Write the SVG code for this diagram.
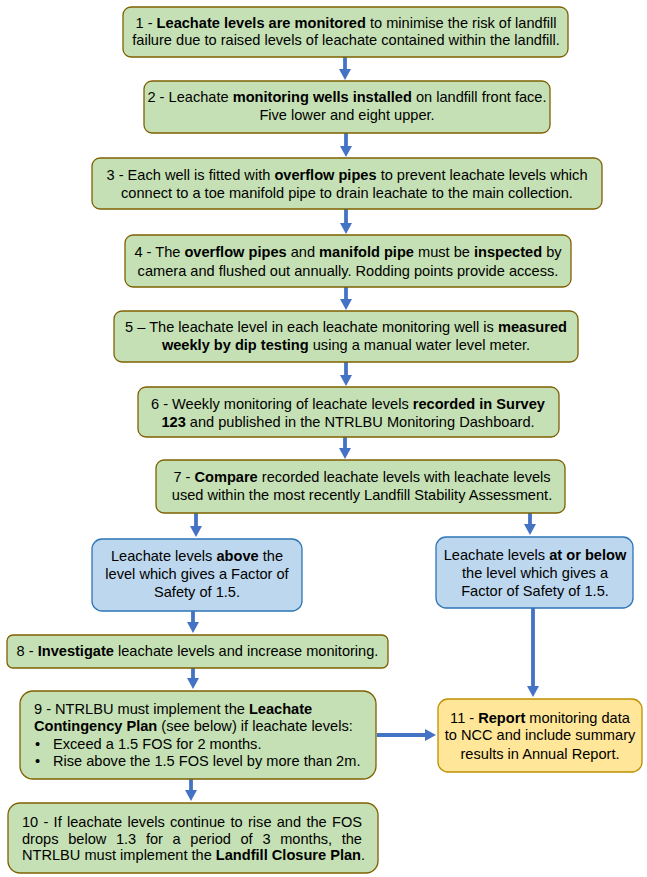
<svg xmlns="http://www.w3.org/2000/svg" width="647" height="877" viewBox="0 0 647 877">
<style>
text{font-family:"Liberation Sans",Arial,sans-serif;font-size:14.6px;fill:#000}
.c{text-anchor:middle}
.b{font-weight:bold}
.g{fill:#C5E0B4;stroke:#7F6000;stroke-width:1.3}
.bl{fill:#BDD7EE;stroke:#2E75B6;stroke-width:1.3}
.y{fill:#FFE699;stroke:#BF9000;stroke-width:1.3}
.a{stroke:#4472C4;stroke-width:3.8;fill:none;marker-end:url(#ah)}
</style>
<defs>
<marker id="ah" markerUnits="userSpaceOnUse" viewBox="0 0 11 12" refX="1" refY="6" markerWidth="11" markerHeight="12" orient="auto">
<path d="M0,0 L11,6 L0,12 z" fill="#4472C4"/>
</marker>
</defs>
<g id="connectors">
<line class="a" x1="345" y1="57" x2="345" y2="70"/>
<line class="a" x1="346" y1="133" x2="346" y2="147"/>
<line class="a" x1="346" y1="209" x2="346" y2="224"/>
<line class="a" x1="346" y1="287" x2="346" y2="300"/>
<line class="a" x1="346" y1="362" x2="346" y2="376"/>
<line class="a" x1="345" y1="437" x2="345" y2="449"/>
<line class="a" x1="196" y1="513" x2="196" y2="527"/>
<line class="a" x1="530" y1="513" x2="530" y2="525"/>
<line class="a" x1="193" y1="611" x2="193" y2="623"/>
<line class="a" x1="193" y1="668" x2="193" y2="679"/>
<line class="a" x1="191" y1="779" x2="191" y2="791"/>
<line class="a" x1="533" y1="608" x2="533" y2="687"/>
<line class="a" x1="377" y1="735" x2="426" y2="735"/>
</g>
<g id="n1">
<rect class="g" x="123" y="7" width="445" height="50" rx="8"/>
<text class="c" x="346" y="27.5">1 - <tspan class="b">Leachate levels are monitored</tspan> to minimise the risk of landfill</text>
<text class="c" x="346" y="45">failure due to raised levels of leachate contained within the landfill.</text>
</g>
<g id="n2">
<rect class="g" x="144" y="81" width="406" height="52" rx="8"/>
<text class="c" x="347" y="102">2 - Leachate <tspan class="b">monitoring wells installed</tspan> on landfill front face.</text>
<text class="c" x="347" y="120">Five lower and eight upper.</text>
</g>
<g id="n3">
<rect class="g" x="92" y="158" width="510" height="51" rx="8"/>
<text class="c" x="347" y="179.5">3 - Each well is fitted with <tspan class="b">overflow pipes</tspan> to prevent leachate levels which</text>
<text class="c" x="347" y="198">connect to a toe manifold pipe to drain leachate to the main collection.</text>
</g>
<g id="n4">
<rect class="g" x="125" y="235" width="446" height="52" rx="8"/>
<text class="c" x="348" y="257">4 - The <tspan class="b">overflow pipes</tspan> and <tspan class="b">manifold pipe</tspan> must be <tspan class="b">inspected</tspan> by</text>
<text class="c" x="348" y="275.5">camera and flushed out annually. Rodding points provide access.</text>
</g>
<g id="n5">
<rect class="g" x="114" y="311" width="464" height="51" rx="8"/>
<text class="c" x="346" y="332">5 – The leachate level in each leachate monitoring well is <tspan class="b">measured</tspan></text>
<text class="c" x="346" y="350"><tspan class="b">weekly by dip testing</tspan> using a manual water level meter.</text>
</g>
<g id="n6">
<rect class="g" x="138" y="387" width="421" height="50" rx="8"/>
<text class="c" x="348" y="408.5">6 - Weekly monitoring of leachate levels <tspan class="b">recorded in Survey</tspan></text>
<text class="c" x="348" y="427"><tspan class="b">123</tspan> and published in the NTRLBU Monitoring Dashboard.</text>
</g>
<g id="n7">
<rect class="g" x="156" y="460" width="409" height="53" rx="8"/>
<text class="c" x="362" y="482">7 - <tspan class="b">Compare</tspan> recorded leachate levels with leachate levels</text>
<text class="c" x="362" y="499.5">used within the most recently Landfill Stability Assessment.</text>
</g>
<g id="above">
<rect class="bl" x="92" y="539" width="210" height="72" rx="10"/>
<text class="c" x="197" y="561">Leachate levels <tspan class="b">above</tspan> the</text>
<text class="c" x="197" y="579">level which gives a Factor of</text>
<text class="c" x="197" y="597">Safety of 1.5.</text>
</g>
<g id="below">
<rect class="bl" x="436" y="537" width="197" height="71" rx="10"/>
<text class="c" x="535" y="560">Leachate levels <tspan class="b">at or below</tspan></text>
<text class="c" x="535" y="578">the level which gives a</text>
<text class="c" x="535" y="596">Factor of Safety of 1.5.</text>
</g>
<g id="n8">
<rect class="g" x="7" y="635" width="381" height="33" rx="6"/>
<text class="c" x="197.5" y="656">8 - <tspan class="b">Investigate</tspan> leachate levels and increase monitoring.</text>
</g>
<g id="n9">
<rect class="g" x="20" y="691" width="356" height="88" rx="13"/>
<text x="34" y="713.5">9 - NTRLBU must implement the <tspan class="b">Leachate</tspan></text>
<text x="34" y="730.5"><tspan class="b">Contingency Plan</tspan> (see below) if leachate levels:</text>
<text x="35" y="748.5">•</text>
<text x="53" y="748.5">Exceed a 1.5 FOS for 2 months.</text>
<text x="35" y="765.5">•</text>
<text x="53" y="765.5">Rise above the 1.5 FOS level by more than 2m.</text>
</g>
<g id="n11">
<rect class="y" x="438" y="699" width="204" height="73" rx="10"/>
<text class="c" x="540" y="722.5">11 - <tspan class="b">Report</tspan> monitoring data</text>
<text class="c" x="540" y="740">to NCC and include summary</text>
<text class="c" x="540" y="758.5">results in Annual Report.</text>
</g>
<g id="n10">
<rect class="g" x="8" y="803" width="370" height="70" rx="12"/>
<text y="827"><tspan x="22">10</tspan><tspan x="43.5">-</tspan><tspan x="53.6">If</tspan><tspan x="67">leachate</tspan><tspan x="127.5">levels</tspan><tspan x="170">continue</tspan><tspan x="230.5">to</tspan><tspan x="248">rise</tspan><tspan x="276.7">and</tspan><tspan x="306.4">the</tspan><tspan x="332">FOS</tspan></text>
<text y="843.5"><tspan x="22">drops</tspan><tspan x="68.2">below</tspan><tspan x="115.9">1.3</tspan><tspan x="145.9">for</tspan><tspan x="172.5">a</tspan><tspan x="190.3">period</tspan><tspan x="240.5">of</tspan><tspan x="262.4">3</tspan><tspan x="280.2">months,</tspan><tspan x="341.7">the</tspan></text>
<text x="22" y="860">NTRLBU must implement the <tspan class="b">Landfill Closure Plan</tspan>.</text>
</g>
</svg>
